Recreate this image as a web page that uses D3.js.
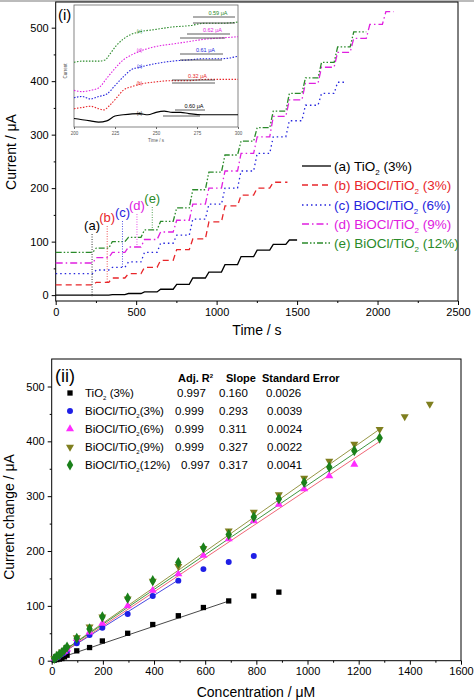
<!DOCTYPE html>
<html><head><meta charset="utf-8">
<script src="https://cdn.jsdelivr.net/npm/d3@7/dist/d3.min.js"></script>
<style>body{margin:0;background:#fff}svg{font-family:"Liberation Sans",Arial,sans-serif}</style>
</head><body><svg id="c" width="474" height="700"></svg>
<script>
// ---------- Panel (i) data ----------
const stepStart = 230, stepEvery = 100; // injection times t_k = 230 + 100k
const seriesNames = ["a","b","c","d","e"];
const seriesLabels = ["(a) TiO","(b) BiOCl/TiO","(c) BiOCl/TiO","(d) BiOCl/TiO","(e) BiOCl/TiO"];
const seriesPct = [" (3%)"," (3%)"," (6%)"," (9%)"," (12%)"];
const seriesColors = ["#000000","#e8262a","#2525dd","#e020e0","#2a8a2a"];
const seriesDash = ["", "6,4", "1.5,3", "7,3,1.5,3", "6,2,1.5,2,1.5,2"];
const baseA = 0, baseB = 19, baseC = 40, baseD = 60, baseE = 80;
const levelsA = [0,1,3,6,11,20,32,43,57,72,84,95,103];
const levelsB = [24,32,40,52,65,85,105,137,167,187,200,211];
const levelsC = [47,52,62,80,97,112,142,170,200,232,265,296,326,355,377,398];
const levelsD = [70,80,90,104,118,140,170,200,232,265,296,334,365,396,426,454,480,506,530];
const levelsE = [88,100,108,122,138,163,197,230,262,288,313,344,377,406,435,464,492];
const endTimes = [1500,1440,1800,2100,1930];
const markerTimes = [226,320,415,505,600];
const markerLabels = ["(a)","(b)","(c)","(d)","(e)"];
// inset (200-300 s), relative current
const insetA = [[200,7],[205,6],[210,5],[215,4],[220,5],[225,9],[230,10],[240,11],[245,10],[250,12],[255,13],[260,12],[265,12],[270,11],[280,10],[290,10],[300,10]];
const insetB = [[200,15],[205,16],[210,17],[215,15],[218,14],[222,18],[226,24],[230,30],[235,33],[240,35],[250,37],[260,38],[270,38],[280,39],[290,39],[300,39]];
const insetC = [[200,24],[205,25],[210,23],[215,25],[220,27],[225,34],[230,41],[235,47],[240,49],[250,52],[260,54],[270,55],[280,56],[290,56],[300,58]];
const insetD = [[200,30],[205,29],[210,30],[215,32],[220,40],[225,48],[230,55],[235,59],[240,62],[250,66],[260,68],[270,70],[280,72],[290,73],[300,74]];
const insetE = [[200,53],[205,54],[210,54],[215,54],[219,55],[222,60],[226,67],[230,72],[235,76],[240,78],[250,80],[260,82],[270,83],[280,85],[290,85],[300,86]];
const insetNotes = ["0.60 μA","0.32 μA","0.61 μA","0.62 μA","0.59 μA"];

// ---------- Panel (ii) data ----------
const concX = [10,20,30,40,50,60,98,148,198,297,395,495,593,692,790,888,987,1085,1183,1282,1380,1478];
const ptsTiO2 = [1,2,3,4,7,10,18,24,36,50,66,82,97,109,118,125];
const ptsB3 = [3,6,9,12,15,18,32,47,60,85,118,146,167,180,191];
const ptsB6 = [4,7,11,14,17,21,40,52,68,100,128,158,192,222,255,285,313,337,358];
const ptsB9 = [4,8,12,16,19,24,42,62,80,113,145,172,205,237,271,303,333,364,395,422,445,468];
const ptsB12 = [4,8,11,15,20,25,41,58,80,114,146,179,206,230,262,295,325,353,383,406];
const legNames = ["TiO","BiOCl/TiO","BiOCl/TiO","BiOCl/TiO","BiOCl/TiO"];
const legSuffix = ["  (3%)","(3%)","(6%)","(9%)","(12%)"];
const adjR2 = ["0.997","0.999","0.999","0.999","0.997"];
const slopes = [0.160,0.293,0.311,0.327,0.317];
const stdErr = ["0.0026","0.0039","0.0024","0.0022","0.0041"];
const fitEnd = [692,495,1282,1282,1282];
const fitIcpt = [-2,2,1,3,3];
const markColors = ["#000000","#1f1fe6","#ff2cff","#7f7f1f","#1a801a"];
const fitColors = ["#333333","#3333dd","#ee5566","#8a8a30","#2a8a2a"];
const markShapes = [d3.symbolSquare, d3.symbolCircle, d3.symbolTriangle, d3.symbolTriangle, d3.symbolDiamond];

const svg = d3.select("#c");
svg.append("rect").attr("x",0).attr("y",0).attr("width",474).attr("height",2).attr("fill","#bbb");

// ================= Panel (i) =================
const x1 = d3.scaleLinear().domain([0,2500]).range([55.7,458]);
const y1 = d3.scaleLinear().domain([-11,548]).range([301,2]);
const g1 = svg.append("g");
g1.append("rect").attr("x",55.7).attr("y",2).attr("width",458-55.7).attr("height",299).attr("fill","none").attr("stroke","#000");
g1.append("g").attr("transform","translate(0,301)").call(d3.axisBottom(x1).tickValues(d3.range(0,2501,500)).tickSize(4).tickFormat(d3.format("d")));
g1.append("g").attr("transform","translate(0,301)").call(d3.axisBottom(x1).tickValues(d3.range(250,2500,500)).tickSize(2).tickFormat(""));
g1.append("g").attr("transform","translate(55.7,0)").call(d3.axisLeft(y1).tickValues(d3.range(0,501,100)).tickSize(4));
g1.append("g").attr("transform","translate(55.7,0)").call(d3.axisLeft(y1).tickValues(d3.range(50,550,100)).tickSize(2).tickFormat(""));
g1.selectAll(".domain").remove();
g1.selectAll(".tick text").attr("font-size",11).attr("font-family","Liberation Sans, Arial");
g1.append("text").attr("x",257).attr("y",335).attr("text-anchor","middle").attr("font-size",14).text("Time / s");
g1.append("text").attr("transform","translate(16,152) rotate(-90)").attr("text-anchor","middle").attr("font-size",14).text("Current / μA");

const bases = [baseA,baseB,baseC,baseD,baseE];
const levels = [levelsA,levelsB,levelsC,levelsD,levelsE];
const line1 = d3.line().x(d=>x1(d[0])).y(d=>y1(d[1]));
function stepPts(i){
  const pts=[[0,bases[i]]]; let prev=bases[i];
  levels[i].forEach((L,k)=>{const t=stepStart+stepEvery*k; if(t>=endTimes[i]) return;
    pts.push([t,prev]); pts.push([t+22,L]); prev=L;});
  pts.push([endTimes[i],prev]); return pts;
}
seriesNames.forEach((n,i)=>{
  g1.append("path").attr("d",line1(stepPts(i))).attr("fill","none").attr("stroke",seriesColors[i])
    .attr("stroke-width",1.3).attr("stroke-dasharray",seriesDash[i]||null);
});
const markerY = [230,222,217,210,203];
markerTimes.forEach((t,i)=>{
  const yv = d3.max(stepPts(i).filter(p=>p[0]<=t),p=>p[1]);
  g1.append("line").attr("x1",x1(t)).attr("x2",x1(t)).attr("y1",markerY[i]+4).attr("y2",y1(i==0?-3:yv)).attr("stroke",seriesColors[i]).attr("stroke-width",0.8).attr("stroke-dasharray","1,1.5");
  g1.append("text").attr("x",x1(t)).attr("y",markerY[i]).attr("text-anchor","middle").attr("font-size",13).attr("fill",seriesColors[i]).text(markerLabels[i]);
});
const legY = [166,185,205,224,243];
seriesNames.forEach((n,i)=>{
  g1.append("line").attr("x1",302).attr("x2",331).attr("y1",legY[i]).attr("y2",legY[i]).attr("stroke",seriesColors[i]).attr("stroke-width",1.3).attr("stroke-dasharray",seriesDash[i]||null);
  const t=g1.append("text").attr("x",334).attr("y",legY[i]+5).attr("font-size",13.5).attr("fill",seriesColors[i]);
  t.append("tspan").text(seriesLabels[i]);
  t.append("tspan").attr("font-size",8).attr("dy",4).text("2");
  t.append("tspan").attr("dy",-4).text(seriesPct[i]);
});
g1.append("text").attr("x",58).attr("y",20).attr("font-size",15).text("(i)");

// inset
const xi = d3.scaleLinear().domain([200,300]).range([74,238]);
const yi = d3.scaleLinear().domain([0,100]).range([127,5]);
const gi = svg.append("g");
gi.append("rect").attr("x",74).attr("y",5).attr("width",164).attr("height",122).attr("fill","#fff").attr("stroke","#666").attr("stroke-width",0.8);
gi.append("g").attr("transform","translate(0,127)").call(d3.axisBottom(xi).tickValues([200,225,250,275,300]).tickSize(2)).call(g=>g.select(".domain").remove()).selectAll("text").attr("font-size",4.5).attr("fill","#555");
gi.selectAll(".tick line").attr("stroke","#666");
gi.append("text").attr("x",156).attr("y",142).attr("text-anchor","middle").attr("font-size",4.5).attr("fill","#555").text("Time / s");
gi.append("text").attr("transform","translate(67,71) rotate(-90)").attr("text-anchor","middle").attr("font-size",4.5).attr("fill","#555").text("Current");
const insets = [insetA,insetB,insetC,insetD,insetE];
const lineI = d3.line().x(d=>xi(d[0])).y(d=>yi(d[1])).curve(d3.curveMonotoneX);
insets.forEach((arr,i)=>{
  gi.append("path").attr("d",lineI(arr)).attr("fill","none").attr("stroke",seriesColors[i]).attr("stroke-width",1.1).attr("stroke-dasharray",seriesDash[i]?"1.5,1.5":null);
  const lbl = arr.find(p=>p[0]>=240);
  gi.append("text").attr("x",xi(240)).attr("y",yi(lbl[1])+1).attr("text-anchor","middle").attr("font-size",4.5).attr("fill",seriesColors[i]).text(markerLabels[i]);
});
const noteX = [[175,205,163,200],[172,215,172,215],[180,223,180,222],[187,230,180,225],[193,235,193,235]];
const noteY = [[110,116],[80,83],[54,60],[34,38],[17,23]];
insetNotes.forEach((s,i)=>{
  const nx=noteX[i], ny=noteY[i];
  gi.append("line").attr("x1",nx[0]).attr("x2",nx[1]).attr("y1",ny[0]).attr("y2",ny[0]).attr("stroke","#333").attr("stroke-width",0.8);
  gi.append("line").attr("x1",nx[2]).attr("x2",nx[3]).attr("y1",ny[1]).attr("y2",ny[1]).attr("stroke","#333").attr("stroke-width",0.8);
  gi.append("text").attr("x",(nx[0]+nx[1])/2+4).attr("y",ny[0]-2).attr("text-anchor","middle").attr("font-size",5.5).attr("fill",seriesColors[i]).text(s);
});

// ================= Panel (ii) =================
const x2 = d3.scaleLinear().domain([0,1600]).range([51.7,461]);
const y2 = d3.scaleLinear().domain([0,500]).range([660.7,386.5]);
const g2 = svg.append("g");
g2.append("rect").attr("x",51.7).attr("y",359).attr("width",461-51.7).attr("height",660.7-359).attr("fill","none").attr("stroke","#000");
g2.append("g").attr("transform","translate(0,660.7)").call(d3.axisBottom(x2).tickValues(d3.range(0,1601,200)).tickSize(4).tickFormat(d3.format("d")));
g2.append("g").attr("transform","translate(0,660.7)").call(d3.axisBottom(x2).tickValues(d3.range(100,1600,200)).tickSize(2).tickFormat(""));
g2.append("g").attr("transform","translate(51.7,0)").call(d3.axisLeft(y2).tickValues(d3.range(0,501,100)).tickSize(4));
g2.append("g").attr("transform","translate(51.7,0)").call(d3.axisLeft(y2).tickValues(d3.range(50,550,100)).tickSize(2).tickFormat(""));
g2.selectAll(".domain").remove();
g2.selectAll(".tick text").attr("font-size",11).attr("font-family","Liberation Sans, Arial");
g2.append("text").attr("x",256).attr("y",697).attr("text-anchor","middle").attr("font-size",14).text("Concentration / μM");
g2.append("text").attr("transform","translate(14,517) rotate(-90)").attr("text-anchor","middle").attr("font-size",14).text("Current change / μA");

const pts = [ptsTiO2,ptsB3,ptsB6,ptsB9,ptsB12];
pts.forEach((p,i)=>{
  g2.append("line").attr("x1",x2(0)).attr("y1",y2(Math.max(0,fitIcpt[i]))).attr("x2",x2(fitEnd[i])).attr("y2",y2(fitIcpt[i]+slopes[i]*fitEnd[i]))
    .attr("stroke",fitColors[i]).attr("stroke-width",0.9);
});
pts.forEach((p,i)=>{
  const sym = d3.symbol().type(markShapes[i]).size(i==4?36:28);
  p.forEach((v,j)=>{
    g2.append("path").attr("d",sym()).attr("fill",markColors[i])
      .attr("transform",`translate(${x2(concX[j])},${y2(v)}) rotate(${i==3?180:0})`);
  });
});
g2.append("text").attr("x",55).attr("y",382).attr("font-size",18).text("(ii)");
g2.append("text").attr("x",178).attr("y",382).attr("font-size",11).attr("font-weight","bold").html('Adj. R<tspan font-size="6" dy="-4">2</tspan>');
g2.append("text").attr("x",226).attr("y",382).attr("font-size",11).attr("font-weight","bold").text("Slope");
g2.append("text").attr("x",262).attr("y",382).attr("font-size",11).attr("font-weight","bold").text("Standard Error");
const rowY = [393,411,429,447,465];
const r2X = [177,175,175,175,181];
legNames.forEach((n,i)=>{
  const sym = d3.symbol().type(markShapes[i]).size(i==4?36:28);
  g2.append("path").attr("d",sym()).attr("fill",markColors[i]).attr("transform",`translate(70,${rowY[i]}) rotate(${i==3?180:0})`);
  const t=g2.append("text").attr("x",85).attr("y",rowY[i]+4).attr("font-size",11.5);
  t.append("tspan").text(n); t.append("tspan").attr("font-size",6).attr("dy",3).text("2"); t.append("tspan").attr("dy",-3).text(legSuffix[i]);
  g2.append("text").attr("x",r2X[i]).attr("y",rowY[i]+4).attr("font-size",11.5).text(adjR2[i]);
  g2.append("text").attr("x",219).attr("y",rowY[i]+4).attr("font-size",11.5).text(slopes[i].toFixed(3));
  g2.append("text").attr("x",i==0?266:267).attr("y",rowY[i]+4).attr("font-size",11.5).text(stdErr[i]);
});
</script></body></html>
